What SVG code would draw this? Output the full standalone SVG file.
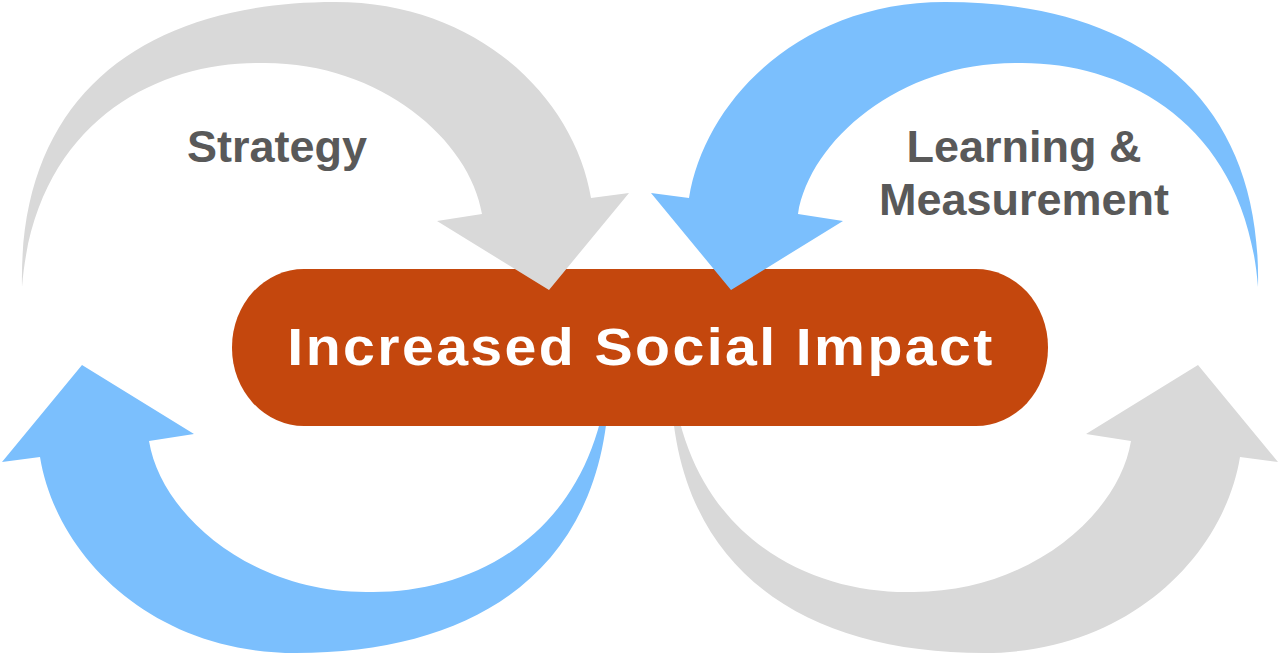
<svg xmlns="http://www.w3.org/2000/svg" width="1280" height="656" viewBox="0 0 1280 656">
<defs>
<style>
.gray{fill:#D9D9D9}
.blue{fill:#7BBFFD}
.lbl{font-family:"Liberation Sans",Arial,sans-serif;font-weight:bold;fill:#595959;font-size:45px;text-anchor:middle}
.main{font-family:"Liberation Sans",Arial,sans-serif;font-weight:bold;fill:#FFFFFF;font-size:52px;letter-spacing:2.2px;text-anchor:middle}
</style>
<path id="arrow" d="M22,287 C18,90 150,2 335,2 C480,2 575,100 591,198 L629,193 L549,290 L437,221 L482,214 C470,140 380,63 265,63 C160,60 35,120 22,287 Z"/>
</defs>
<rect width="1280" height="656" fill="#FFFFFF"/>
<g id="connectors">
<use href="#arrow" class="blue" transform="matrix(-1,0,0,-1,631,655)"/>
<use href="#arrow" class="gray" transform="matrix(1,0,0,-1,649,655)"/>
</g>
<g id="impact">
<rect x="232" y="269" width="816" height="157" rx="72" ry="78" fill="#C4470D"/>
<text class="main" transform="translate(641,365) scale(1.1,1)" x="0" y="0">Increased Social Impact</text>
</g>
<g id="connectors-top">
<use href="#arrow" class="gray"/>
<use href="#arrow" class="blue" transform="matrix(-1,0,0,1,1280,0)"/>
</g>
<g id="strategy">
<text class="lbl" x="277" y="162">Strategy</text>
</g>
<g id="learning">
<text class="lbl" x="1024" y="162">Learning &amp;</text>
<text class="lbl" x="1024" y="215">Measurement</text>
</g>
</svg>
